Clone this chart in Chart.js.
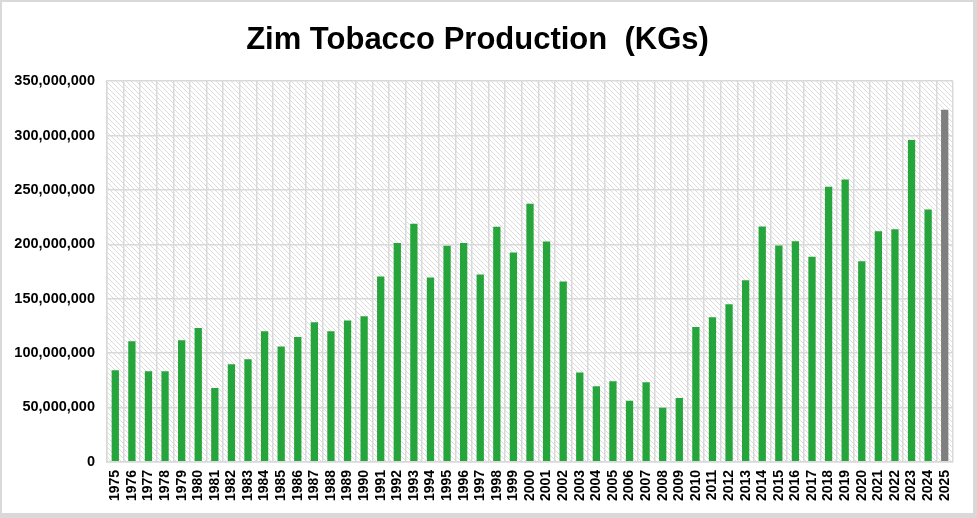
<!DOCTYPE html>
<html>
<head>
<meta charset="utf-8">
<script src="https://cdn.jsdelivr.net/npm/chart.js@4/dist/chart.umd.min.js"></script>
<style>
  html, body { margin: 0; padding: 0; background: #d9d9d9; }
  #wrap { position: absolute; left: 2px; top: 2px; width: 971px; height: 511px; background: #fff; }
</style>
</head>
<body>
<div id="wrap"><canvas id="chart"></canvas></div>
<script>
// years on the x axis
var years = [];
for (var y = 1975; y <= 2025; y++) years.push(String(y));

// production in kg
var production = [
  84300000, 110900000, 83400000, 83400000, 111800000, 123000000, 67800000, 89800000, 94400000, 120000000,
  106000000, 114800000, 128300000, 120000000, 130000000, 133800000, 170400000, 201300000, 219000000, 169500000,
  198800000, 201300000, 172300000, 216200000, 192400000, 237300000, 202500000, 165800000, 82200000, 69600000,
  74200000, 56200000, 73300000, 49800000, 58600000, 124000000, 133000000, 145000000, 167000000, 216500000,
  199000000, 202800000, 188700000, 253000000, 259600000, 184400000, 212000000, 213800000, 296000000, 232000000,
  323700000
];

var yTicks = [0, 50000000, 100000000, 150000000, 200000000, 250000000, 300000000, 350000000];

var barColors = production.map(function(v, i) {
  return years[i] == "2025" ? "#7f7f7f" : "#26a53c";
});

// hatched fill behind the plot
function makeHatch(ctx) {
  var c = document.createElement("canvas");
  c.width = 5; c.height = 5;
  var g = c.getContext("2d");
  g.fillStyle = "#ffffff";
  g.fillRect(0, 0, 5, 5);
  g.strokeStyle = "#dcdcdc";
  g.lineWidth = 1;
  g.beginPath();
  g.moveTo(0, 0); g.lineTo(5, 5);
  g.moveTo(-1, 4); g.lineTo(1, 6);
  g.moveTo(4, -1); g.lineTo(6, 1);
  g.stroke();
  return ctx.createPattern(c, "repeat");
}

var hatchPlugin = {
  id: "hatch",
  beforeDraw: function(chart) {
    var a = chart.chartArea, ctx = chart.ctx;
    ctx.save();
    ctx.fillStyle = makeHatch(ctx);
    ctx.fillRect(a.left, a.top, a.right - a.left, a.bottom - a.top);
    ctx.restore();
  }
};

var ctx = document.getElementById("chart");
var chart = new Chart(ctx, {
  type: "bar",
  data: {
    labels: years,
    datasets: [{
      label: "Production (KGs)",
      data: production,
      backgroundColor: barColors,
      barPercentage: 0.44,
      categoryPercentage: 1.0
    }]
  },
  options: {
    responsive: true,
    maintainAspectRatio: false,
    animation: false,
    layout: { padding: { left: 0, right: 20, bottom: 4 } },
    plugins: {
      legend: { display: false },
      tooltip: { enabled: false },
      title: {
        display: true,
        text: "Zim Tobacco Production  (KGs)",
        color: "#000",
        font: { family: "Liberation Sans", size: 31, weight: "bold" },
        padding: { top: 20, bottom: 22 }
      }
    },
    scales: {
      x: {
        grid: { color: "#d9d9d9", lineWidth: 1.5, drawTicks: false, offset: true },
        border: { color: "#d9d9d9", width: 1.5 },
        ticks: {
          color: "#000",
          font: { family: "Liberation Sans", size: 14, weight: "bold" },
          minRotation: 90, maxRotation: 90, autoSkip: false, padding: 8
        }
      },
      y: {
        min: 0, max: 350000000,
        afterFit: function(scale) { scale.width = 105; },
        afterBuildTicks: function(scale) {
          scale.ticks = yTicks.map(function(v) { return { value: v }; });
        },
        grid: { color: "#d9d9d9", lineWidth: 1.5, drawTicks: false },
        border: { color: "#d9d9d9", width: 1.5 },
        ticks: {
          color: "#000",
          font: { family: "Liberation Sans", size: 14.5, weight: "bold" },
          padding: 12,
          callback: function(v) { return v.toLocaleString("en-US"); }
        }
      }
    }
  },
  plugins: [hatchPlugin]
});
</script>
</body>
</html>
